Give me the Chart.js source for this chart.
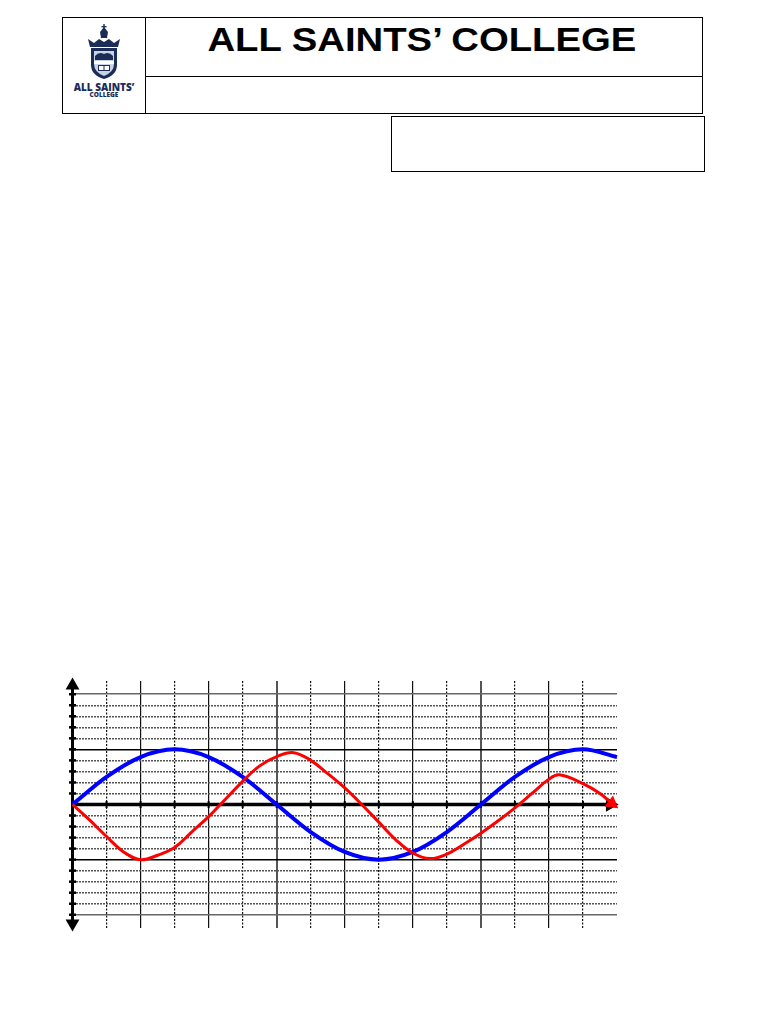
<!DOCTYPE html>
<html lang="en">
<head>
    <meta charset="UTF-8">
    <title>All Saints' College - Waves</title>
    <script src="https://cdn.jsdelivr.net/npm/chart.js"></script>
    <style>
        body {
            margin: 0;
            width: 768px;
            height: 1024px;
            background: #fff;
            font-family: "Liberation Sans", Arial, sans-serif;
            position: relative;
        }

        .box {
            position: absolute;
            border: 1px solid #000;
            box-sizing: border-box;
        }

        .header { left: 62px; top: 17px; width: 641px; height: 97px; }
        .logo-cell { position: absolute; left: 0; top: 0; width: 82px; height: 95px; border-right: 1px solid #000; }
        .title-cell { position: absolute; left: 82px; top: 0; right: 0; height: 58px; border-bottom: 1px solid #000; text-align: center; }
        .title-cell h1 {
            display: inline-block;
            margin: 5px 4px 0 0;
            font-size: 33px;
            line-height: 33px;
            font-weight: bold;
            transform: scaleX(1.16);
        }
        .side-box { left: 391px; top: 116px; width: 314px; height: 56px; }

        .crest-text {
            position: absolute;
            left: 0;
            width: 82px;
            text-align: center;
            color: #1b2d57;
            font-family: "Open Sans", "DejaVu Sans", sans-serif;
            font-weight: 800;
        }

        #chartWrap {
            position: absolute;
            left: 52px;
            top: 670px;
            width: 590px;
            height: 270px;
        }
    </style>
</head>
<body>
    <!-- Header block -->
    <div class="box header">
        <div class="logo-cell">
            <svg width="82" height="64" viewBox="0 0 82 64" style="position:absolute;left:0;top:0">
                <!-- mitre -->
                <path d="M41 9 L45 14 L44 20 L38 20 L37 14 Z" fill="#1b2d57"/>
                <rect x="40.3" y="6" width="1.4" height="6" fill="#1b2d57"/>
                <rect x="38.5" y="8" width="5" height="1.3" fill="#1b2d57"/>
                <!-- crown band -->
                <path d="M25 21 L31 25 L36 21 L41 24 L46 21 L51 25 L57 21 L55 29 L27 29 Z" fill="#1b2d57"/>
                <!-- shield -->
                <path d="M28 30 L54 30 L54 47 Q54 57 41 61 Q28 57 28 47 Z" fill="#1b2d57"/>
                <path d="M31 33 L51 33 L51 46 Q51 54 41 58 Q31 54 31 46 Z" fill="#c9d3e6"/>
                <path d="M32 38 Q36 33 41 36 Q46 33 50 38 L50 42 L32 42 Z" fill="#1b2d57"/>
                <rect x="31" y="43" width="20" height="3" fill="#ffffff"/>
                <rect x="35" y="47" width="12" height="6" fill="#1b2d57"/>
                <rect x="36" y="48" width="4.5" height="4" fill="#ffffff"/>
                <rect x="41.5" y="48" width="4.5" height="4" fill="#ffffff"/>
            </svg>
            <div class="crest-text" style="top:63px;font-size:10px;line-height:12px;">ALL SAINTS’</div>
            <div class="crest-text" style="top:73px;font-size:6.5px;line-height:8px;">COLLEGE</div>
        </div>
        <div class="title-cell">
            <h1>ALL SAINTS’ COLLEGE</h1>
        </div>
    </div>
    <div class="box side-box"></div>

    <!-- Wave graph -->
    <div id="chartWrap">
        <canvas id="waveChart"></canvas>
    </div>

    <script>
        // Grid positions
        const xTicks = [1, 2, 3, 4, 5, 6, 7, 8, 9, 10, 11, 12, 13, 14, 15];
        const yTicks = [-10, -9, -8, -7, -6, -5, -4, -3, -2, -1, 0, 1, 2, 3, 4, 5, 6, 7, 8, 9, 10];

        // Blue wave, read at each grid column
        const blueX = [0, 1, 2, 3, 4, 5, 6, 7, 8, 9, 10, 11, 12, 13, 14, 15, 16];
        const blueY = [0, 2.5, 4.3, 5, 4.3, 2.5, 0, -2.5, -4.3, -5, -4.3, -2.5, 0, 2.5, 4.3, 5, 4.3];

        // Red wave, every half column
        const redX = [0, 0.5, 1, 1.5, 2, 2.5, 3, 3.5, 4, 4.5, 5, 5.5, 6, 6.5, 7, 7.5, 8, 8.5,
                      9, 9.5, 10, 10.5, 11, 11.5, 12, 12.5, 13, 13.5, 14, 14.3, 15, 15.5, 15.85];
        const redY = [0, -1.4, -2.9, -4.3, -5, -4.6, -3.9, -2.5, -1.1, 0.5, 2.1, 3.5, 4.35, 4.7, 4.0, 2.8, 1.5, 0,
                      -1.6, -3.2, -4.4, -4.9, -4.5, -3.6, -2.6, -1.5, -0.3, 1.0, 2.3, 2.7, 1.9, 1.0, 0.1];

        const toPoints = (xs, ys) => xs.map((x, i) => ({ x: x, y: ys[i] }));

        const redPts = toPoints(redX, redY);
        const redEnd = redPts.map((_, i) => i === redPts.length - 1);

        const ctx = document.getElementById("waveChart").getContext("2d");
        new Chart(ctx, {
            type: "line",
            data: {
                datasets: [
                    {
                        label: "Blue",
                        data: toPoints(blueX, blueY),
                        borderColor: "#0000ff",
                        borderWidth: 4,
                        pointRadius: 0,
                        cubicInterpolationMode: "monotone",
                        order: 1,
                    },
                    {
                        label: "Red",
                        data: redPts,
                        borderColor: "#ff0000",
                        borderWidth: 3,
                        tension: 0.4,
                        pointRadius: redEnd.map(e => e ? 5 : 0),
                        pointStyle: "triangle",
                        pointRotation: 128,
                        pointBackgroundColor: "#ff0000",
                        pointBorderColor: "#ff0000",
                        order: 0,
                    },
                    {
                        label: "x axis",
                        data: [{ x: 0, y: 0 }, { x: 15.8, y: 0 }],
                        borderColor: "#000",
                        borderWidth: 3.5,
                        pointRadius: [0, 5],
                        pointStyle: "triangle",
                        pointRotation: 90,
                        pointBackgroundColor: "#000",
                        pointBorderColor: "#000",
                        order: 2,
                    },
                    {
                        label: "y axis",
                        data: [{ x: 0, y: -10.8 }, { x: 0, y: 10.8 }],
                        borderColor: "#000",
                        borderWidth: 3,
                        pointRadius: 5,
                        pointStyle: "triangle",
                        pointRotation: [180, 0],
                        pointBackgroundColor: "#000",
                        pointBorderColor: "#000",
                        order: 2,
                    },
                    {
                        label: "y marks",
                        data: yTicks.filter(v => v !== 0).map(v => ({ x: 0, y: v })),
                        showLine: false,
                        pointStyle: "line",
                        pointRadius: 3.5,
                        pointBorderWidth: 2.5,
                        pointBorderColor: "#000",
                        order: 2,
                    },
                    {
                        label: "x marks",
                        data: xTicks.map(v => ({ x: v, y: 0 })),
                        showLine: false,
                        pointStyle: "line",
                        pointRotation: 90,
                        pointRadius: 3.5,
                        pointBorderWidth: 2,
                        pointBorderColor: "#000",
                        order: 2,
                    },
                ],
            },
            options: {
                responsive: true,
                maintainAspectRatio: false,
                animation: false,
                clip: false,
                layout: {
                    padding: { left: 20.5, right: 25, top: 11, bottom: 12 },
                },
                plugins: {
                    legend: { display: false },
                    tooltip: { enabled: false },
                },
                scales: {
                    x: {
                        type: "linear",
                        min: 0,
                        max: 16,
                        afterBuildTicks: scale => {
                            scale.ticks = xTicks.map(v => ({ value: v }));
                        },
                        ticks: { display: false },
                        border: {
                            display: false,
                            dash: c => (c.tick && c.tick.value % 2 === 0) ? [] : [2, 1.5],
                        },
                        grid: {
                            drawTicks: false,
                            color: c => (c.tick && c.tick.value % 6 === 0) ? "#555" : "#111",
                            lineWidth: c => (c.tick && c.tick.value % 6 === 0) ? 2 : 1.2,
                        },
                    },
                    y: {
                        type: "linear",
                        min: -11.2,
                        max: 11.2,
                        afterBuildTicks: scale => {
                            scale.ticks = yTicks.map(v => ({ value: v }));
                        },
                        ticks: { display: false },
                        border: {
                            display: false,
                            dash: c => (c.tick && c.tick.value % 5 === 0) ? [] : [2, 1],
                        },
                        grid: {
                            drawTicks: false,
                            color: c => {
                                const v = c.tick ? c.tick.value : 1;
                                if (Math.abs(v) === 10) return "#666";
                                if (v % 5 === 0) return "#000";
                                return "#555";
                            },
                            lineWidth: c => (c.tick && c.tick.value % 5 === 0) ? 1.6 : 1.4,
                        },
                    },
                },
            },
        });
    </script>
</body>
</html>
